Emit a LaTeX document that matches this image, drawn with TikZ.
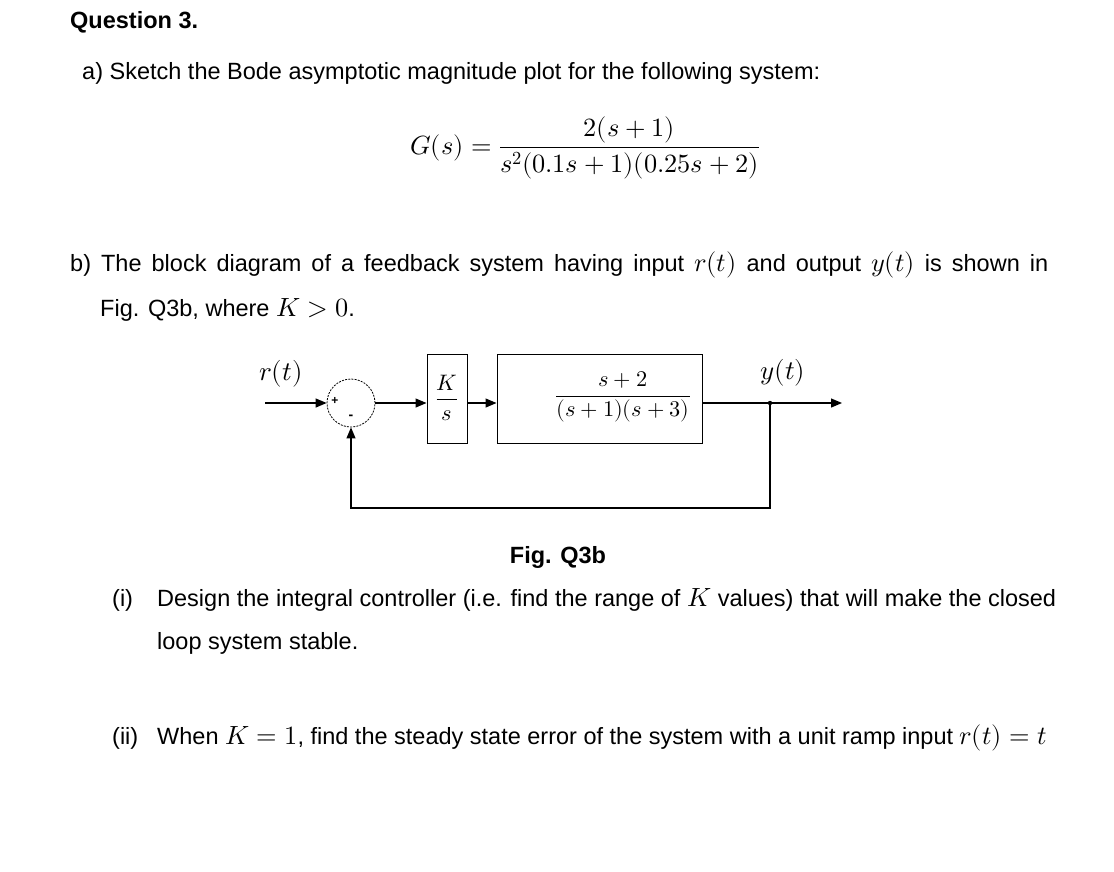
\documentclass[tikz,border=0pt]{standalone}
\usepackage{fontspec}
\setmainfont{Liberation Sans}
\usepackage{unicode-math}
\setmathfont{Latin Modern Math}[Scale=1.12]
\usetikzlibrary{arrows.meta}
\begin{document}
\begin{tikzpicture}[x=1pt,y=-1pt,
  txt/.style={anchor=west,inner sep=0pt,font=\fontsize{23.5}{28}\selectfont},
  blk/.style={draw,line width=1pt,inner sep=0pt},
  conn/.style={line width=1.2pt,-{Triangle[length=11pt,width=9pt]}},
  wire/.style={line width=1.2pt}]
\useasboundingbox (0,0) rectangle (1114,871);
\node[txt,font=\fontsize{23.5}{28}\selectfont\bfseries] (q) at (70,22) {Question 3.};
\node[txt] (a) at (82,73) {a) Sketch the Bode asymptotic magnitude plot for the following system:};
\node[txt] (g) at (410,148) {$G(s)=\dfrac{2(s+1)}{s^2(0.1s+1)(0.25s+2)}$};
\node[txt] (b) at (70,265) {\makebox[978pt][s]{b) The block diagram of a feedback system having input $r(t)$ and output $y(t)$ is shown in}};
\node[txt] (b2) at (100,310) {Fig. Q3b, where $K>0$.};
% diagram
\node[inner sep=0pt,font=\fontsize{24}{26}\selectfont] (rt) at (281,374) {$r(t)$};
\node[inner sep=0pt,font=\fontsize{24}{26}\selectfont] (yt) at (783,373) {$y(t)$};
\coordinate (in) at (265,403);
\node[draw,circle,dash pattern=on 2pt off 1.2pt,minimum size=48pt,inner sep=0pt,line width=0.8pt] (sum) at (351,403) {};
\node[font=\fontsize{12}{12}\selectfont\bfseries,inner sep=0pt] (plus) at (335,401) {+};
\node[font=\fontsize{14}{14}\selectfont\bfseries,inner sep=0pt] (minus) at (351,417) {-};
\node[blk,minimum width=40pt,minimum height=89pt] (k) at (447,398.5) {};
\node[inner sep=0pt,font=\fontsize{20}{22}\selectfont] (kt) at (447,398) {$\dfrac{K}{s}$};
\node[blk,minimum width=205pt,minimum height=89pt] (p) at (599.5,398.5) {};
\node[inner sep=0pt,font=\fontsize{20}{22}\selectfont] (pt) at (623,397) {$\dfrac{s+2}{(s+1)(s+3)}$};
\coordinate (out) at (842,403);
\coordinate (br) at (770,403);
\coordinate (c1) at (770,508);
\coordinate (c2) at (351,508);
\fill (br) circle (2.2pt);
\draw[conn] (in) -- (sum.west);
\draw[conn] (sum.east) -- (k.west |- sum.east);
\draw[conn] (k.east |- sum.east) -- (p.west |- sum.east);
\draw[conn] (p.east |- sum.east) -- (out);
\draw[conn] (br) -- (c1) -- (c2) -- (sum.south);
\node[inner sep=0pt,font=\fontsize{23.5}{28}\selectfont\bfseries] (fig) at (558,557) {Fig. Q3b};
\node[txt] (i) at (112,600) {(i)};
\node[txt] (it) at (157,600) {Design the integral controller (i.e. find the range of $K$ values) that will make the closed};
\node[txt] (it2) at (157,643) {loop system stable.};
\node[txt] (ii) at (112,738) {(ii)};
\node[txt] (iit) at (157,738) {When $K=1$, find the steady state error of the system with a unit ramp input $r(t)=t$};
\end{tikzpicture}
\end{document}
